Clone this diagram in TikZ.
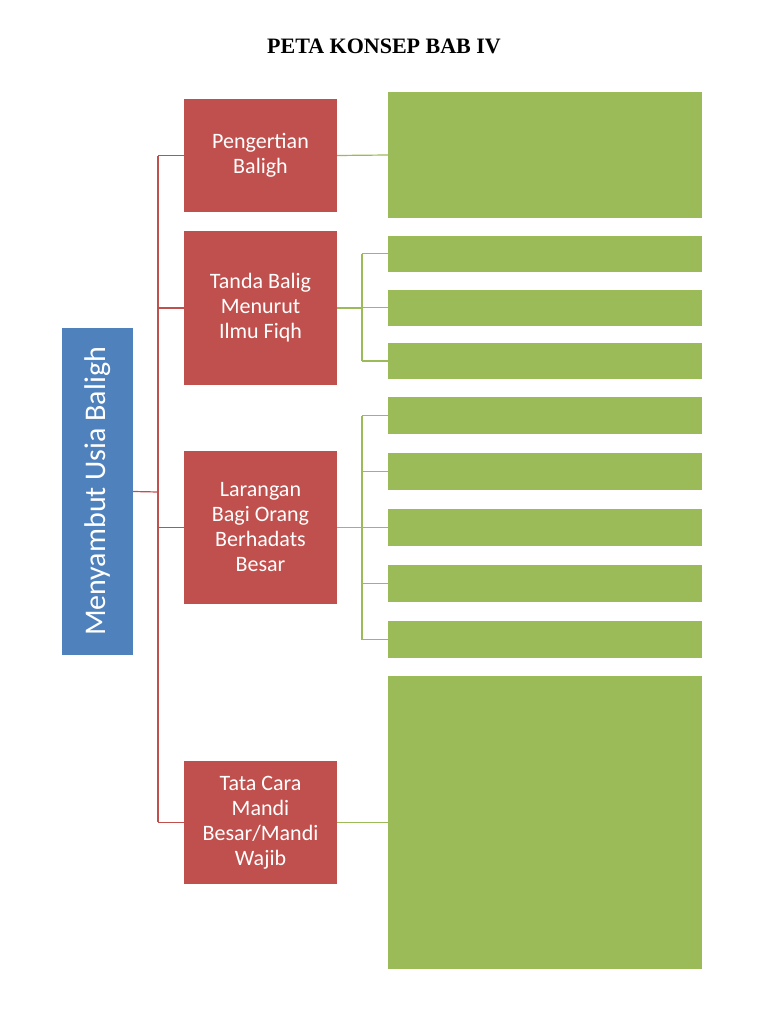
\documentclass[tikz,border=0pt]{standalone}
\usepackage{fontspec}
\setmainfont{Carlito}
\newfontfamily\titlefont{Liberation Serif}
\definecolor{rd}{HTML}{C0504D}
\definecolor{bl}{HTML}{4F81BD}
\definecolor{gr}{HTML}{9BBB59}
\begin{document}
\begin{tikzpicture}[x=1pt,y=-1pt,
 red/.style={fill=rd,draw=none,text=white,font=\fontsize{22}{25}\selectfont,align=center},
 grn/.style={fill=gr,draw=none},
 rl/.style={draw=rd,line width=1.2pt},
 gl/.style={draw=gr,line width=1.2pt}]
\useasboundingbox (0,0) rectangle (768,1024);
\node[font=\titlefont\bfseries\fontsize{22}{26}\selectfont] (t) at (384,46) {PETA KONSEP BAB IV};
\node[fill=bl,minimum width=71pt,minimum height=327pt,inner sep=0] (m) at (97.5,491.5) {};
\node[rotate=90,text=white,font=\fontsize{30}{34}\selectfont] at (m.center) {Menyambut Usia Baligh};
\node[red,minimum width=153pt,minimum height=113pt] (r1) at (260.5,155.5) {Pengertian\\Baligh};
\node[red,minimum width=153pt,minimum height=154pt] (r2) at (260.5,308) {Tanda Balig\\Menurut\\Ilmu Fiqh};
\node[red,minimum width=153pt,minimum height=153pt] (r3) at (260.5,527.5) {Larangan\\Bagi Orang\\Berhadats\\Besar};
\node[red,minimum width=153pt,minimum height=123pt] (r4) at (260.5,822.5) {Tata Cara\\Mandi\\Besar/Mandi\\Wajib};
\node[grn,minimum width=314pt,minimum height=126pt] (g1) at (545,155) {};
\foreach \n/\y in {a/253.5,b/307.5,c/361}{\node[grn,minimum width=314pt,minimum height=36pt] (g\n) at (545,\y) {};}
\foreach \n/\y in {d/415.5,e/471.5,f/527.5,g/583.5,h/639.5}{\node[grn,minimum width=314pt,minimum height=37pt] (g\n) at (545,\y) {};}
\node[grn,minimum width=314pt,minimum height=293pt] (g2) at (545,822.5) {};
% red connectors
\coordinate (tr) at (158,492);
\draw[rl] (m.east) -- (tr);
\draw[rl] (158,156) -- (158,822);
\foreach \r in {r1,r2,r3,r4}{\draw[rl] (\r.west -| tr) -- (\r.west);}
% green connectors
\draw[gl] (r1.east) -- (g1.west);
\draw[gl] (r4.east) -- (g2.west);
\coordinate (k) at (362,0);
\draw[gl] (r2.east) -- (r2.east -| k);
\draw[gl] (ga.west -| k) -- (gc.west -| k);
\foreach \n in {a,b,c}{\draw[gl] (g\n.west -| k) -- (g\n.west);}
\draw[gl] (r3.east) -- (r3.east -| k);
\draw[gl] (gd.west -| k) -- (gh.west -| k);
\foreach \n in {d,e,f,g,h}{\draw[gl] (g\n.west -| k) -- (g\n.west);}
\end{tikzpicture}
\end{document}
